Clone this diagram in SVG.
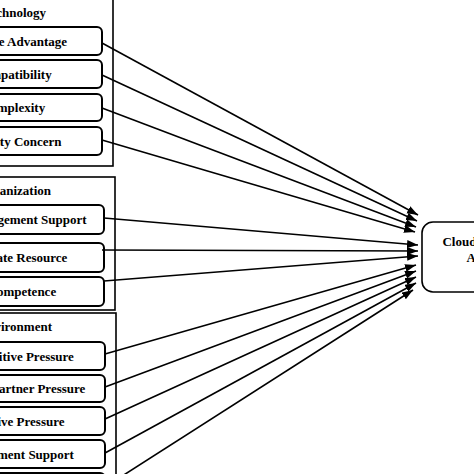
<svg xmlns="http://www.w3.org/2000/svg" width="474" height="474" viewBox="0 0 474 474">
<style>
.outer{fill:#fff;stroke:#000;stroke-width:1.6}
.inner{fill:#fff;stroke:#000;stroke-width:2}
.t{font-family:"Liberation Serif","Times New Roman",serif;font-weight:bold;font-size:13px;fill:#000}
.c{text-anchor:middle}
.e{text-anchor:end}
.conn line{stroke:#000;stroke-width:1.6;marker-end:url(#ah)}
</style>
<defs>
<marker id="ah" markerUnits="userSpaceOnUse" markerWidth="12" markerHeight="10" refX="11" refY="4" orient="auto">
<path d="M0,0 L11,4 L0,8 Z" fill="#000"/>
</marker>
</defs>
<rect width="474" height="474" fill="#fff"/>

<g id="technology">
<rect class="outer" x="-90" y="-5" width="203" height="171"/>
<text class="t e" x="46" y="17">Technology</text>
</g>
<g id="relative-advantage"><rect class="inner" x="-72" y="27" width="174" height="28" rx="5"/><text class="t c" x="13" y="46">Relative Advantage</text></g>
<g id="compatibility"><rect class="inner" x="-72" y="60" width="174" height="28" rx="5"/><text class="t c" x="13" y="79">Compatibility</text></g>
<g id="complexity"><rect class="inner" x="-72" y="94" width="174" height="27" rx="5"/><text class="t c" x="13" y="112">Complexity</text></g>
<g id="security-concern"><rect class="inner" x="-72" y="127" width="174" height="28" rx="5"/><text class="t c" x="13" y="146">Security Concern</text></g>

<g id="organization">
<rect class="outer" x="-90" y="177" width="205" height="133"/>
<text class="t e" x="51" y="195">Organization</text>
</g>
<g id="top-management-support"><rect class="inner" x="-72" y="205" width="176" height="29" rx="5"/><text class="t c" x="13.5" y="224">Top Management Support</text></g>
<g id="adequate-resource"><rect class="inner" x="-72" y="243" width="176" height="29" rx="5"/><text class="t c" x="13.5" y="262">Adequate Resource</text></g>
<g id="it-competence"><rect class="inner" x="-72" y="277" width="176" height="29" rx="5"/><text class="t c" x="13.5" y="296">IT Competence</text></g>

<g id="environment">
<rect class="outer" x="-90" y="313" width="206" height="200"/>
<text class="t e" x="52" y="331">Environment</text>
</g>
<g id="competitive-pressure"><rect class="inner" x="-72" y="342" width="177" height="28" rx="5"/><text class="t c" x="14.3" y="361">Competitive Pressure</text></g>
<g id="trading-partner-pressure"><rect class="inner" x="-72" y="375" width="177" height="27" rx="5"/><text class="t c" x="14.3" y="393">Trading Partner Pressure</text></g>
<g id="coercive-pressure"><rect class="inner" x="-72" y="407" width="177" height="28" rx="5"/><text class="t c" x="14.5" y="426">Coercive Pressure</text></g>
<g id="government-support"><rect class="inner" x="-72" y="440" width="177" height="28" rx="5"/><text class="t c" x="14.5" y="459">Government Support</text></g>
<g id="offscreen-factor"><rect class="inner" x="-72" y="473" width="177" height="28" rx="5"/></g>

<g id="cloud-computing-adoption">
<rect x="422" y="222" width="90" height="70" rx="11" fill="#fff" stroke="#000" stroke-width="1.6"/>
<text class="t c" x="492.5" y="246">Cloud Computing</text>
<text class="t c" x="492.5" y="262">Adoption</text>
</g>

<g id="connectors" class="conn">
<line x1="102" y1="43" x2="418" y2="215"/>
<line x1="102" y1="75" x2="417" y2="221"/>
<line x1="102" y1="108" x2="416" y2="227"/>
<line x1="102" y1="140" x2="415" y2="232"/>
<line x1="104" y1="218" x2="418" y2="245"/>
<line x1="102" y1="250" x2="418" y2="251"/>
<line x1="104" y1="281" x2="418" y2="256"/>
<line x1="105" y1="354" x2="416" y2="265"/>
<line x1="105" y1="387" x2="416" y2="271"/>
<line x1="105" y1="419" x2="416" y2="277"/>
<line x1="105" y1="453" x2="416" y2="283"/>
<line x1="105" y1="487" x2="413" y2="290"/>
</g>
</svg>
